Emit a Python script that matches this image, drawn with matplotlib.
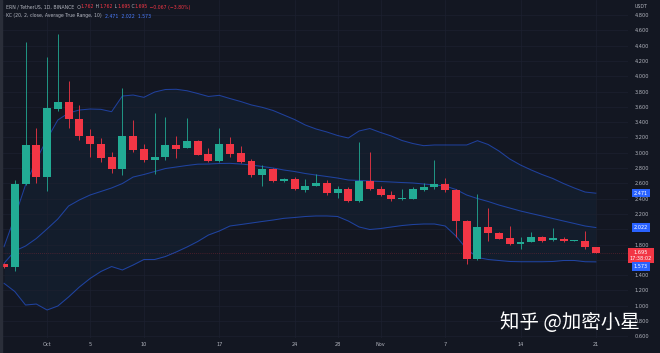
import numpy as np
import pandas as pd
import matplotlib
matplotlib.use('Agg')
import matplotlib.pyplot as plt

# daily candles, 27 Sep -> 21 Nov
dates = pd.date_range('2021-09-27', '2021-11-21', freq='D')

opens = [1.541, 1.502, 2.587, 3.101, 2.682, 3.571, 3.659, 3.441, 3.214, 3.110,
         2.940, 2.787, 3.218, 3.052, 2.901, 2.944, 3.101, 3.061, 3.153, 2.983,
         2.895, 3.110, 2.992, 2.894, 2.708, 2.783, 2.634, 2.656, 2.512, 2.569,
         2.608, 2.469, 2.522, 2.369, 2.634, 2.529, 2.443, 2.391, 2.395, 2.512,
         2.547, 2.595, 2.512, 2.107, 1.607, 2.025, 1.946, 1.881, 1.807, 1.833,
         1.894, 1.859, 1.876, 1.842, 1.846, 1.762]
highs = [1.555, 2.643, 4.451, 3.319, 4.255, 4.552, 3.941, 3.624, 3.306, 3.188,
         3.013, 3.842, 3.427, 3.114, 3.523, 3.471, 3.218, 3.450, 3.160, 3.058,
         3.319, 3.201, 3.088, 2.920, 2.839, 2.800, 2.670, 2.678, 2.652, 2.718,
         2.640, 2.560, 2.550, 3.144, 3.013, 2.560, 2.500, 2.530, 2.550, 2.600,
         2.905, 2.670, 2.530, 2.120, 2.456, 2.273, 1.960, 2.042, 1.894, 1.967,
         1.910, 2.012, 1.900, 1.860, 1.976, 1.762]
lows = [1.490, 1.458, 2.580, 2.600, 2.503, 3.549, 3.327, 3.166, 2.940, 2.882,
        2.731, 2.708, 3.013, 2.882, 2.722, 2.905, 2.927, 3.058, 2.970, 2.882,
        2.880, 2.948, 2.861, 2.686, 2.565, 2.620, 2.620, 2.512, 2.490, 2.560,
        2.447, 2.404, 2.360, 2.360, 2.510, 2.430, 2.375, 2.380, 2.390, 2.500,
        2.530, 2.490, 1.894, 1.545, 1.600, 1.850, 1.870, 1.790, 1.737, 1.830,
        1.830, 1.850, 1.830, 1.840, 1.740, 1.685]
closes = [1.502, 2.591, 3.101, 2.678, 3.580, 3.659, 3.441, 3.214, 3.110, 2.931,
          2.791, 3.218, 3.035, 2.901, 2.948, 3.097, 3.048, 3.153, 2.974, 2.895,
          3.110, 2.983, 2.882, 2.708, 2.791, 2.634, 2.656, 2.529, 2.565, 2.604,
          2.469, 2.522, 2.369, 2.634, 2.525, 2.443, 2.391, 2.408, 2.522, 2.556,
          2.595, 2.512, 2.107, 1.607, 2.025, 1.954, 1.876, 1.807, 1.833, 1.894,
          1.850, 1.881, 1.842, 1.855, 1.762, 1.695]

# Keltner channel (20, 2, close, ATR 10)
kc_upper = [1.771, 2.159, 2.578, 2.905, 3.179, 3.427, 3.519, 3.558, 3.571, 3.567,
            3.536, 3.741, 3.754, 3.724, 3.793, 3.826, 3.829, 3.810, 3.774, 3.735,
            3.750, 3.708, 3.669, 3.624, 3.593, 3.552, 3.493, 3.434, 3.362, 3.310,
            3.271, 3.225, 3.192, 3.284, 3.316, 3.264, 3.218, 3.159, 3.120, 3.092,
            3.101, 3.101, 3.101, 3.101, 3.157, 3.107, 3.022, 2.918, 2.839, 2.774,
            2.715, 2.663, 2.597, 2.539, 2.486, 2.471]
kc_middle = [1.554, 1.715, 1.780, 1.878, 2.003, 2.133, 2.303, 2.382, 2.447, 2.493,
             2.539, 2.597, 2.682, 2.715, 2.754, 2.793, 2.813, 2.833, 2.850, 2.852,
             2.859, 2.861, 2.852, 2.839, 2.820, 2.800, 2.774, 2.754, 2.728, 2.708,
             2.689, 2.669, 2.643, 2.637, 2.630, 2.624, 2.617, 2.610, 2.604, 2.591,
             2.578, 2.565, 2.519, 2.447, 2.401, 2.362, 2.316, 2.277, 2.238, 2.205,
             2.173, 2.140, 2.107, 2.075, 2.042, 2.022]
kc_lower = [1.293, 1.186, 1.009, 1.022, 0.944, 0.996, 1.114, 1.244, 1.356, 1.447,
            1.512, 1.467, 1.532, 1.604, 1.604, 1.643, 1.702, 1.767, 1.839, 1.924,
            1.976, 2.042, 2.061, 2.081, 2.101, 2.120, 2.142, 2.153, 2.166, 2.173,
            2.173, 2.166, 2.107, 2.029, 1.996, 2.009, 2.029, 2.048, 2.061, 2.068,
            2.068, 2.042, 1.911, 1.741, 1.630, 1.604, 1.591, 1.578, 1.575, 1.575,
            1.575, 1.578, 1.591, 1.591, 1.575, 1.573]

price_ticks = [0.6, 0.8, 1.0, 1.2, 1.4, 1.6, 1.8, 2.0, 2.2, 2.4, 2.6, 2.8,
               3.0, 3.2, 3.4, 3.6, 3.8, 4.0, 4.2, 4.4, 4.6, 4.8]
hidden_ticks = [1.6, 2.0]  # covered by the channel value boxes
time_ticks = ['2021-10-01', '2021-10-05', '2021-10-10', '2021-10-17', '2021-10-24',
              '2021-10-28', '2021-11-01', '2021-11-07', '2021-11-14', '2021-11-21']
time_labels = ['Oct', '5', '10', '17', '24', '28', 'Nov', '7', '14', '21']

BG = '#131722'
TXT = '#b2b5be'
UP = '#22ab94'
DOWN = '#f23645'
BLUE = '#2962ff'


def draw_candles(ax, x):
    o = np.array(opens)
    c = np.array(closes)
    colors = np.where(c >= o, UP, DOWN)
    ax.vlines(x, lows, highs, colors=colors, linewidth=0.6, zorder=3)
    bottom = np.minimum(o, c)
    height = np.maximum(np.abs(c - o), 0.012)
    ax.bar(x, height, bottom=bottom, width=0.74, color=colors, linewidth=0, zorder=4)


def draw_channel(ax, x):
    ax.fill_between(x, kc_lower, kc_upper, color='#2196f3', alpha=0.05, linewidth=0, zorder=1)
    for band in (kc_upper, kc_middle, kc_lower):
        ax.plot(x, band, color=BLUE, alpha=0.55, linewidth=0.75, zorder=2)


def price_box(fig, ax, price, text, color, dy=0.0):
    y_disp = ax.transData.transform((0, price))[1]
    y_fig = fig.transFigure.inverted().transform((0, y_disp))[1] + dy
    fig.text(641 / 660, y_fig, text, color='white', fontsize=3.6, ha='center', va='center',
             bbox=dict(boxstyle='square,pad=0.35', fc=color, ec='none'), zorder=10)


def main():
    fig = plt.figure(figsize=(6.6, 3.53), dpi=100, facecolor=BG)
    ax = fig.add_axes([0, 15 / 353, 628 / 660, 338 / 353], facecolor=BG)
    x = np.arange(len(dates))

    draw_channel(ax, x)
    draw_candles(ax, x)

    # last price line
    ax.axhline(closes[-1], color=DOWN, linewidth=0.5, linestyle=(0, (1, 2)), alpha=0.45, zorder=2)

    ax.set_xlim(-0.372, 57.99)
    ax.set_ylim(0.578, 4.996)

    ax.yaxis.tick_right()
    ax.set_yticks(price_ticks)
    ax.set_yticklabels(['' if p in hidden_ticks else '%.3f' % p for p in price_ticks])
    xt = [dates.get_loc(pd.Timestamp(d)) for d in time_ticks]
    ax.set_xticks(xt)
    ax.set_xticklabels(time_labels)
    ax.tick_params(axis='both', length=0, colors=TXT, labelsize=3.6)
    ax.tick_params(axis='y', pad=5)
    ax.tick_params(axis='x', pad=3)
    ax.grid(True, color='#1c2130', linewidth=0.5, zorder=0)
    for s in ax.spines.values():
        s.set_visible(False)

    fig.text(641 / 660, 1 - 7 / 353, 'USDT', color=TXT, fontsize=3.4, ha='center', va='center')

    # indicator header, pieces chained one after another
    def chain(y, pieces):
        t = fig.text(6 / 660, y, pieces[0][0], color=pieces[0][1], fontsize=3.3, va='center')
        for s, col in pieces[1:]:
            t = ax.annotate(s, xy=(1, 0.5), xycoords=t, va='center', ha='left',
                            color=col, fontsize=3.3, annotation_clip=False)

    chain(1 - 7 / 353, [('ERN / TetherUS, 1D, BINANCE  O', TXT), ('1.762', DOWN), (' H', TXT),
                        ('1.762', DOWN), (' L', TXT), ('1.695', DOWN), (' C', TXT),
                        ('1.695', DOWN), (' \u22120.067 (\u22123.80%)', DOWN)])
    chain(1 - 16 / 353, [('KC (20, 2, close, Average True Range, 10)  ', TXT),
                         ('2.471  2.022  1.573', '#4a7dff')])

    price_box(fig, ax, kc_upper[-1], '%.3f' % kc_upper[-1], BLUE)
    price_box(fig, ax, kc_middle[-1], '%.3f' % kc_middle[-1], BLUE)
    price_box(fig, ax, closes[-1], '%.3f\n17:38:02' % closes[-1], DOWN, dy=-3 / 353)
    price_box(fig, ax, kc_lower[-1], '%.3f' % kc_lower[-1], BLUE, dy=-4.5 / 353)

    # left border strip
    fig.patches.append(plt.Rectangle((0, 0), 2 / 660, 1, transform=fig.transFigure,
                                     color='#2a2e39', zorder=5))

    fig.text(570 / 660, 31 / 353, '知乎 @加密小星', color='white', fontsize=14,
             ha='center', va='center', family=['Noto Sans CJK SC', 'DejaVu Sans'], zorder=12)

    fig.savefig('out.png', dpi=100, facecolor=BG)


if __name__ == '__main__':
    main()
